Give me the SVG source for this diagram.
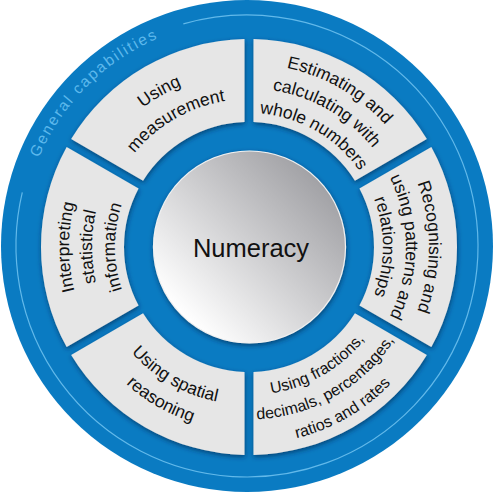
<svg xmlns="http://www.w3.org/2000/svg" width="494" height="500" viewBox="0 0 494 500">
<style>
.seg{fill:#e6e6e6;}
.lbl{font-family:"Liberation Sans",Arial,sans-serif;font-size:17.5px;fill:#111;text-anchor:middle;}
.sm{font-size:16px;}
.ring{fill:#0a7bc2;}
.hl{fill:none;stroke:#62b9ea;stroke-width:1.2;}
.gc{font-family:"Liberation Sans",Arial,sans-serif;font-size:15.5px;fill:#5cb8ec;letter-spacing:1.9px;text-anchor:middle;}
</style>
<defs>
<filter id="sh" x="-30%" y="-30%" width="160%" height="160%"><feDropShadow dx="0.5" dy="2" stdDeviation="2.5" flood-color="#00284d" flood-opacity="0.65"/></filter>
<linearGradient id="cg" x1="0.15" y1="0.85" x2="0.85" y2="0.15"><stop offset="0" stop-color="#ffffff"/><stop offset="1" stop-color="#a2a2a6"/></linearGradient>
<path id="segShape" d="M359.43 188.43 L431.35 146.93 A208 208 0 0 1 431.35 347.07 L359.43 305.57 A125 125 0 0 0 359.43 188.43 Z"/>
<path id="a1a" d="M74.67 231.75 A175 175 0 0 1 322.96 88.40"/>
<path id="a1b" d="M101.56 234.10 A148 148 0 0 1 311.55 112.87"/>
<path id="a2a" d="M171.66 81.15 A183 183 0 0 1 431.30 231.05"/>
<path id="a2b" d="M182.01 103.35 A158.5 158.5 0 0 1 406.90 233.19"/>
<path id="a2c" d="M192.37 125.55 A134 134 0 0 1 382.49 235.32"/>
<path id="a3a" d="M352.24 99.55 A180 180 0 0 1 352.24 394.45"/>
<path id="a3b" d="M339.05 118.39 A157 157 0 0 1 339.05 375.61"/>
<path id="a3c" d="M325.86 137.23 A134 134 0 0 1 325.86 356.77"/>
<path id="a4a" d="M186.45 381.13 A148 148 0 0 0 396.44 259.90"/>
<path id="a4b" d="M176.10 403.34 A172.5 172.5 0 0 0 420.84 262.04"/>
<path id="a4c" d="M165.74 425.54 A197 197 0 0 0 445.25 264.17"/>
<path id="a5a" d="M91.60 260.77 A158 158 0 0 0 315.77 390.20"/>
<path id="a5b" d="M65.70 263.04 A184 184 0 0 0 326.76 413.76"/>
<path id="a6a" d="M145.76 394.45 A180 180 0 0 1 145.76 99.55"/>
<path id="a6b" d="M158.95 375.61 A157 157 0 0 1 158.95 118.39"/>
<path id="a6c" d="M172.14 356.77 A134 134 0 0 1 172.14 137.23"/>
<path id="gcp" d="M34.63 323.30 A226 226 0 0 1 324.30 33.63"/>
</defs>

<g id="outer-ring">
<circle class="ring" cx="247" cy="246" r="246"/>
<path class="hl" d="M183.33 23.95 A231 231 0 1 1 22.29 192.47"/>
<text class="gc"><textPath href="#gcp" startOffset="50%">General capabilities</textPath></text>
</g>

<g id="connectors"/>

<g id="seg-measurement">
<g filter="url(#sh)"><use href="#segShape" class="seg" transform="rotate(-120 249 247)"/></g>
<text class="lbl"><textPath href="#a1a" startOffset="50%">Using</textPath></text>
<text class="lbl"><textPath href="#a1b" startOffset="50%">measurement</textPath></text>
</g>

<g id="seg-whole-numbers">
<g filter="url(#sh)"><use href="#segShape" class="seg" transform="rotate(-60 249 247)"/></g>
<text class="lbl"><textPath href="#a2a" startOffset="50%">Estimating and</textPath></text>
<text class="lbl"><textPath href="#a2b" startOffset="50%">calculating with</textPath></text>
<text class="lbl"><textPath href="#a2c" startOffset="50%">whole numbers</textPath></text>
</g>

<g id="seg-patterns">
<g filter="url(#sh)"><use href="#segShape" class="seg"/></g>
<text class="lbl"><textPath href="#a3a" startOffset="50%">Recognising and</textPath></text>
<text class="lbl"><textPath href="#a3b" startOffset="50%">using patterns and</textPath></text>
<text class="lbl"><textPath href="#a3c" startOffset="50%">relationships</textPath></text>
</g>

<g id="seg-fractions">
<g filter="url(#sh)"><use href="#segShape" class="seg" transform="rotate(60 249 247)"/></g>
<text class="lbl sm"><textPath href="#a4a" startOffset="50%">Using fractions,</textPath></text>
<text class="lbl sm"><textPath href="#a4b" startOffset="50%">decimals, percentages,</textPath></text>
<text class="lbl sm"><textPath href="#a4c" startOffset="50%">ratios and rates</textPath></text>
</g>

<g id="seg-spatial">
<g filter="url(#sh)"><use href="#segShape" class="seg" transform="rotate(120 249 247)"/></g>
<text class="lbl"><textPath href="#a5a" startOffset="50%">Using spatial</textPath></text>
<text class="lbl"><textPath href="#a5b" startOffset="50%">reasoning</textPath></text>
</g>

<g id="seg-statistics">
<g filter="url(#sh)"><use href="#segShape" class="seg" transform="rotate(180 249 247)"/></g>
<text class="lbl"><textPath href="#a6a" startOffset="50%">Interpreting</textPath></text>
<text class="lbl"><textPath href="#a6b" startOffset="50%">statistical</textPath></text>
<text class="lbl"><textPath href="#a6c" startOffset="50%">information</textPath></text>
</g>

<g id="center-numeracy">
<circle cx="249.5" cy="247" r="96" fill="url(#cg)" stroke="#f2f2f2" stroke-width="1.2" filter="url(#sh)"/>
<text x="251" y="257" style="font-family:'Liberation Sans',Arial,sans-serif;font-size:25.5px;fill:#111;text-anchor:middle">Numeracy</text>
</g>
</svg>
